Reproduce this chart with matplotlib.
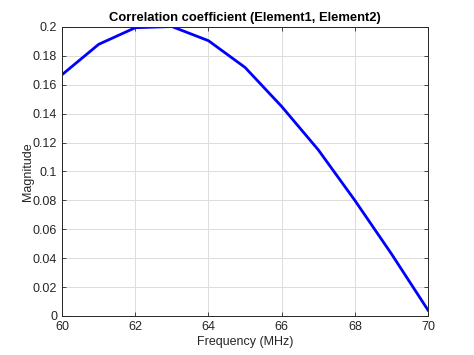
import matplotlib.pyplot as plt
import numpy as np

# frequency points (MHz) and correlation magnitude
freq = [60, 61, 62, 63, 64, 65, 66, 67, 68, 69, 70]
corr = [0.167, 0.188, 0.1995, 0.2003, 0.1905, 0.172, 0.145, 0.115, 0.080, 0.043, 0.004]

xticks = [60, 62, 64, 66, 68, 70]
yticks = np.arange(0, 0.21, 0.02)
ytick_labels = ['0', '0.02', '0.04', '0.06', '0.08', '0.1', '0.12', '0.14', '0.16', '0.18', '0.2']

plt.rcParams['font.family'] = ['Arial', 'Liberation Sans', 'DejaVu Sans']
txt = '#262626'

fig = plt.figure(figsize=(4.74, 3.55), dpi=100)
ax = fig.add_axes([0.131, 0.110, 0.772, 0.814])

ax.plot(freq, corr, color='#0000ff', linewidth=2)

ax.set_xlim(60, 70)
ax.set_ylim(0, 0.2)
ax.set_xticks(xticks)
ax.set_yticks(yticks)
ax.set_yticklabels(ytick_labels)
ax.grid(True, color='#dcdcdc', linewidth=0.7)
ax.set_axisbelow(True)
ax.tick_params(direction='in', top=True, right=True, labelsize=9, colors=txt, length=3, width=0.6)
for s in ax.spines.values():
    s.set_color(txt)
    s.set_linewidth(0.7)

ax.set_xlabel('Frequency (MHz)', fontsize=9, color=txt, labelpad=2)
ax.set_ylabel('Magnitude', fontsize=9, color=txt, labelpad=-1)
ax.set_title('Correlation coefficient (Element1, Element2)', fontsize=9.4, fontweight='bold', color='black', pad=4)

fig.savefig('out.png', dpi=100)
